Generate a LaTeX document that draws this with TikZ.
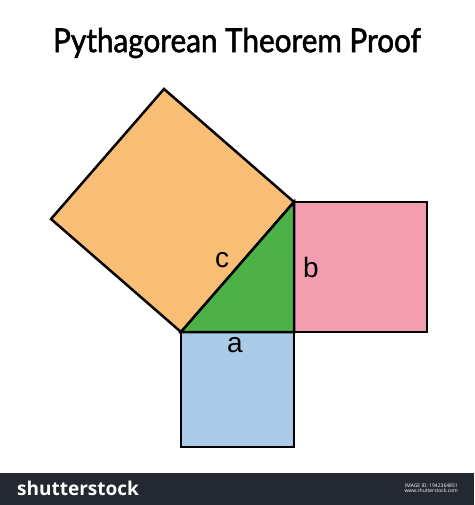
\documentclass[tikz,border=0pt]{standalone}
\usepackage{fontspec}
\setmainfont{Open Sans}
\newfontfamily\titlefont{Lato}[FakeBold=1.6,FakeStretch=0.9]
\newfontfamily\labelfont{Liberation Sans}
\definecolor{orangeSq}{RGB}{249,190,118}
\definecolor{pinkSq}{RGB}{242,158,176}
\definecolor{blueSq}{RGB}{170,202,232}
\definecolor{greenTri}{RGB}{76,178,72}
\definecolor{barDark}{RGB}{36,40,48}
\begin{document}
\begin{tikzpicture}[x=1pt,y=-1pt,
  sq/.style={draw=black,line width=2.5pt,line join=miter},
  lbl/.style={font=\labelfont\fontsize{28}{28}\selectfont,text=black,inner sep=0pt}]
\useasboundingbox (0,0) rectangle (474,505);
\fill[white] (0,0) rectangle (474,505);
% vertices
\coordinate (A) at (181,332);
\coordinate (B) at (294,332);
\coordinate (C) at (294,202);
\coordinate (O1) at (164,89);
\coordinate (O2) at (51,219);
\coordinate (P1) at (427,202);
\coordinate (P2) at (427,332);
\coordinate (Q1) at (294,447);
\coordinate (Q2) at (181,447);
% squares
\filldraw[sq,fill=orangeSq] (A) -- (C) -- (O1) -- (O2) -- cycle;
\filldraw[sq,fill=pinkSq] (C) -- (P1) -- (P2) -- (B) -- cycle;
\filldraw[sq,fill=blueSq] (A) -- (B) -- (Q1) -- (Q2) -- cycle;
\filldraw[sq,fill=greenTri] (A) -- (B) -- (C) -- cycle;
% labels
\node[lbl] (lc) at (222,260) {c};
\node[lbl] (lb) at (311,267) {b};
\node[lbl] (la) at (235,345) {a};
% title
\node[font=\titlefont\fontsize{33}{33}\selectfont,inner sep=0pt] (title) at (237,43) {Pythagorean Theorem Proof};
% bottom bar
\fill[barDark] (0,473) rectangle (474,505);
\node[font=\fontsize{19}{19}\selectfont\bfseries,text=white,anchor=west,inner sep=0pt] (ss) at (17,488) {shutterstock};
\node[font=\fontsize{5}{5}\selectfont,text=white,anchor=east,inner sep=0pt,align=right] (id) at (458,488) {IMAGE ID: 1942364851\\www.shutterstock.com};
\end{tikzpicture}
\end{document}
